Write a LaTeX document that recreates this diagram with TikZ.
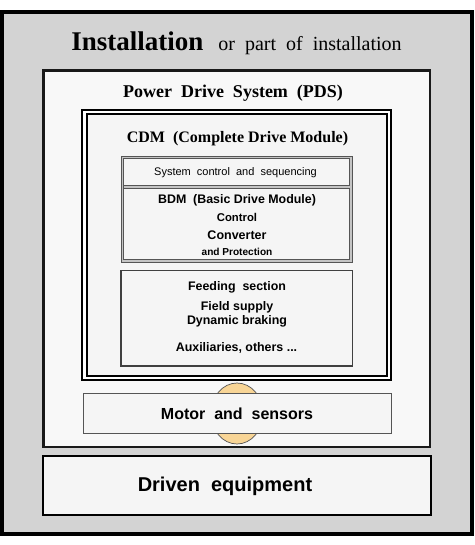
\documentclass[tikz,border=0pt]{standalone}
\usepackage{fontspec}
\usetikzlibrary{shapes.geometric}
\setmainfont{Liberation Serif}
\setsansfont{Liberation Sans}
\definecolor{insgray}{HTML}{D3D3D3}
\definecolor{pdsfill}{HTML}{F8F8F8}
\definecolor{boxfill}{HTML}{F5F5F5}
\definecolor{edgegray}{HTML}{555555}
\definecolor{bandgray}{HTML}{C4C4C4}
\definecolor{motorcol}{HTML}{F8D596}
\begin{document}
\begin{tikzpicture}[x=1pt,y=-1pt,
  box/.style={draw, inner sep=0pt, outer sep=0pt, anchor=north west},
  serifl/.style={anchor=base, inner sep=0pt, font=\bfseries},
  sansl/.style={anchor=base, inner sep=0pt, font=\sffamily\bfseries}]
\useasboundingbox (0,0) rectangle (474,545);
% installation
\node[box, line width=4pt, fill=insgray, minimum width=470pt, minimum height=522pt] (inst) at (2,12) {};
\node[anchor=base, inner sep=0pt] (title) at (236.5,51) {\fontsize{27}{30}\selectfont\bfseries Installation\hspace{15pt}\fontsize{20}{24}\selectfont\mdseries or~ part~ of~ installation};
% PDS
\node[box, line width=2.5pt, draw=black!90, fill=pdsfill, minimum width=386.5pt, minimum height=376.5pt] (pds) at (43.5,70.5) {};
\node[serifl] (pdst) at (233,98) {\fontsize{18}{21}\selectfont Power~ Drive~ System~ (PDS)};
% Driven equipment
\node[box, line width=2.5pt, fill=boxfill, minimum width=388pt, minimum height=59pt] (driven) at (43,456) {};
\node[sansl] (drivent) at (225,491) {\fontsize{20}{24}\selectfont Driven~ equipment};
% CDM
\node[box, line width=2pt, fill=white, minimum width=309pt, minimum height=270pt] (cdmo) at (82,110) {};
\node[box, line width=2pt, fill=boxfill, minimum width=300pt, minimum height=261pt] (cdmi) at (86.5,114.5) {};
\node[serifl] (cdmt) at (237.5,143) {\fontsize{16}{19}\selectfont CDM~ (Complete Drive Module)};
% System control + BDM
\node[box, line width=0.9pt, draw=edgegray, fill=bandgray, minimum width=231pt, minimum height=106pt] (sbo) at (121,156) {};
\node[box, line width=0.9pt, draw=edgegray, fill=boxfill, minimum width=226pt, minimum height=101pt] (sbi) at (123.5,158.5) {};
\fill[bandgray] ([yshift=-26.5pt]sbi.north west) rectangle ([yshift=-29.5pt]sbi.north east);
\draw[line width=0.9pt, edgegray] ([yshift=-26.5pt]sbi.north west) -- ([yshift=-26.5pt]sbi.north east);
\draw[line width=0.9pt, edgegray] ([yshift=-29.5pt]sbi.north west) -- ([yshift=-29.5pt]sbi.north east);
\node[anchor=base, inner sep=0pt, font=\sffamily] (sct) at (235.5,176) {\fontsize{11}{13}\selectfont System~ control~ and~ sequencing};
\node[sansl] (bdmt) at (237,204) {\fontsize{12.4}{14}\selectfont BDM~ (Basic Drive Module)};
\node[sansl] (ctrl) at (237,221) {\fontsize{11.3}{13}\selectfont Control};
\node[sansl] (conv) at (237,239) {\fontsize{12.5}{14}\selectfont Converter};
\node[sansl] (prot) at (237,255) {\fontsize{10.1}{12}\selectfont and Protection};
% Feeding section
\node[box, line width=1.1pt, draw=black!75, fill=boxfill, minimum width=231.5pt, minimum height=95.5pt] (feed) at (121,270.5) {};
\node[sansl] (feedt) at (237,290) {\fontsize{12.4}{14}\selectfont Feeding~ section};
\node[sansl] (field) at (237,310) {\fontsize{12.4}{14}\selectfont Field supply};
\node[sansl] (dyn) at (237,324) {\fontsize{12.4}{14}\selectfont Dynamic braking};
\node[sansl] (aux) at (236.5,351) {\fontsize{12.4}{14}\selectfont Auxiliaries, others ...};
% Motor
\node[ellipse, draw=edgegray, line width=0.7pt, fill=motorcol, minimum width=52pt, minimum height=61pt, inner sep=0pt] (shaft) at (237,413.5) {};
\node[box, line width=1pt, draw=edgegray, fill=boxfill, minimum width=308pt, minimum height=40pt] (motor) at (83,393) {};
\node[sansl] (motort) at (237,419) {\fontsize{16}{19}\selectfont Motor~ and~ sensors};
\end{tikzpicture}
\end{document}
